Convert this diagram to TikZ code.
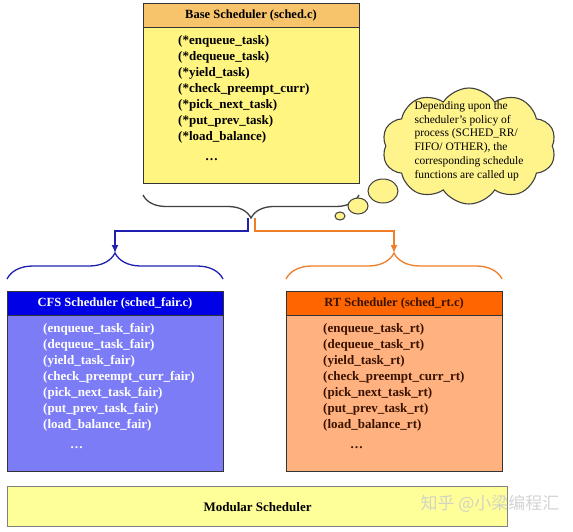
\documentclass[tikz,border=0pt]{standalone}
\usepackage{fontspec}
\setmainfont{Liberation Serif}
\newfontfamily\cjkfont{Noto Sans CJK SC}
\usepackage{tikz}
\usetikzlibrary{positioning,arrows.meta,shapes.geometric,shapes.symbols,decorations.pathreplacing}

\definecolor{baseHead}{HTML}{F7C46C}
\definecolor{baseBody}{HTML}{FFF580}
\definecolor{cfsHead}{HTML}{0000E6}
\definecolor{cfsBody}{HTML}{7C7CF7}
\definecolor{rtHead}{HTML}{FF6600}
\definecolor{rtBody}{HTML}{FFB27F}
\definecolor{rtText}{HTML}{3A1200}
\definecolor{modFill}{HTML}{FFFF99}
\definecolor{cloudFill}{HTML}{FFF38C}
\definecolor{cfsLine}{HTML}{2020B0}
\definecolor{rtLine}{HTML}{F07D28}

\begin{document}
\begin{tikzpicture}[
  x=1pt, y=-1pt, >={Latex[length=8pt,width=7pt]},
  head/.style={draw=black!80, line width=0.9pt, outer sep=0pt, inner sep=0pt, minimum width=216pt, minimum height=24pt, font=\fontsize{12.5}{15}\selectfont\bfseries},
  body/.style={draw=black!80, line width=0.9pt, outer sep=0pt, inner sep=0pt, minimum width=216pt, minimum height=156pt},
  funcs/.style={anchor=north west, inner sep=0pt, align=left, font=\fontsize{13}{16}\selectfont\bfseries},
  curly/.style={decorate, decoration={brace, amplitude=#1}, line width=1.3pt},
  bubble/.style={ellipse, draw=black!75, line width=1pt, fill=cloudFill, inner sep=0pt},
]
  \useasboundingbox (0,0) rectangle (573,531);

  % Base scheduler
  \node (base-head) [head, fill=baseHead] at (251,15) {Base Scheduler (sched.c)};
  \node (base-body) [body, fill=baseBody, below=0pt of base-head] {};
  \node (base-funcs) [funcs] at ([shift={(35pt,-8pt)}]base-body.north west) {(*enqueue\_task)\\ (*dequeue\_task)\\ (*yield\_task)\\ (*check\_preempt\_curr)\\ (*pick\_next\_task)\\ (*put\_prev\_task)\\ (*load\_balance)\\[4pt] \hspace*{27pt}\ldots};
  \draw[curly=23pt, black!75] ([yshift=-12pt]base-body.south east) -- ([yshift=-12pt]base-body.south west);
  \coordinate (base-tip) at ([yshift=-35pt]base-body.south);

  % thought cloud
  \node (thought) [cloud, cloud puffs=10, cloud puff arc=115, aspect=1.5, draw=black!75, line width=1.1pt, fill=cloudFill, minimum width=174pt, minimum height=116pt] at (469,146) {};
  \node (thought-text) [align=left, inner sep=0pt, font=\fontsize{11.5}{13.7}\selectfont] at (469,141) {Depending upon the\\ scheduler's policy of\\ process (SCHED\_RR/\\ FIFO/ OTHER), the\\ corresponding schedule\\ functions are called up};
  \node (bubble-big) [bubble, minimum width=30pt, minimum height=24pt] at (383,191) {};
  \node (bubble-mid) [bubble, minimum width=20pt, minimum height=16pt] at (358,206) {};
  \node (bubble-small) [bubble, minimum width=10pt, minimum height=8pt] at (340,216) {};

  % CFS scheduler
  \node (cfs-head) [head, fill=cfsHead, text=white] at (115,303) {CFS Scheduler (sched\_fair.c)};
  \node (cfs-body) [body, fill=cfsBody, below=0pt of cfs-head] {};
  \node (cfs-funcs) [funcs, text=white] at ([shift={(36pt,-8pt)}]cfs-body.north west) {(enqueue\_task\_fair)\\ (dequeue\_task\_fair)\\ (yield\_task\_fair)\\ (check\_preempt\_curr\_fair)\\ (pick\_next\_task\_fair)\\ (put\_prev\_task\_fair)\\ (load\_balance\_fair)\\[4pt] \hspace*{27pt}\ldots};
  \draw[curly=26pt, cfsLine] ([yshift=12pt]cfs-head.north west) -- ([yshift=12pt]cfs-head.north east);
  \coordinate (cfs-tip) at ([yshift=38pt]cfs-head.north);

  % RT scheduler
  \node (rt-head) [head, fill=rtHead, text=rtText, right=63pt of cfs-head] {RT Scheduler (sched\_rt.c)};
  \node (rt-body) [body, fill=rtBody, below=0pt of rt-head] {};
  \node (rt-funcs) [funcs, text=rtText] at ([shift={(37pt,-8pt)}]rt-body.north west) {(enqueue\_task\_rt)\\ (dequeue\_task\_rt)\\ (yield\_task\_rt)\\ (check\_preempt\_curr\_rt)\\ (pick\_next\_task\_rt)\\ (put\_prev\_task\_rt)\\ (load\_balance\_rt)\\[4pt] \hspace*{27pt}\ldots};
  \draw[curly=26pt, rtLine] ([yshift=12pt]rt-head.north west) -- ([yshift=12pt]rt-head.north east);
  \coordinate (rt-tip) at ([yshift=38pt]rt-head.north);

  \draw[->, cfsLine, line width=1.3pt] ([xshift=-3pt]base-tip) -- ++(0,13) -| (cfs-tip);
  \draw[->, rtLine, line width=1.3pt] ([xshift=4pt]base-tip) -- ++(0,13) -| (rt-tip);

  % modular scheduler
  \node (modular) [draw=black!50, line width=1.2pt, fill=modFill, minimum width=500pt, minimum height=40pt, font=\fontsize{13}{15}\selectfont\bfseries, below right=15pt and 0pt of cfs-body.south west] {Modular Scheduler};
  \node (watermark) [font=\cjkfont\fontsize{17}{17}\selectfont, text=gray!40, opacity=0.85] at (490,504) {知乎 @小梁编程汇};
\end{tikzpicture}
\end{document}
